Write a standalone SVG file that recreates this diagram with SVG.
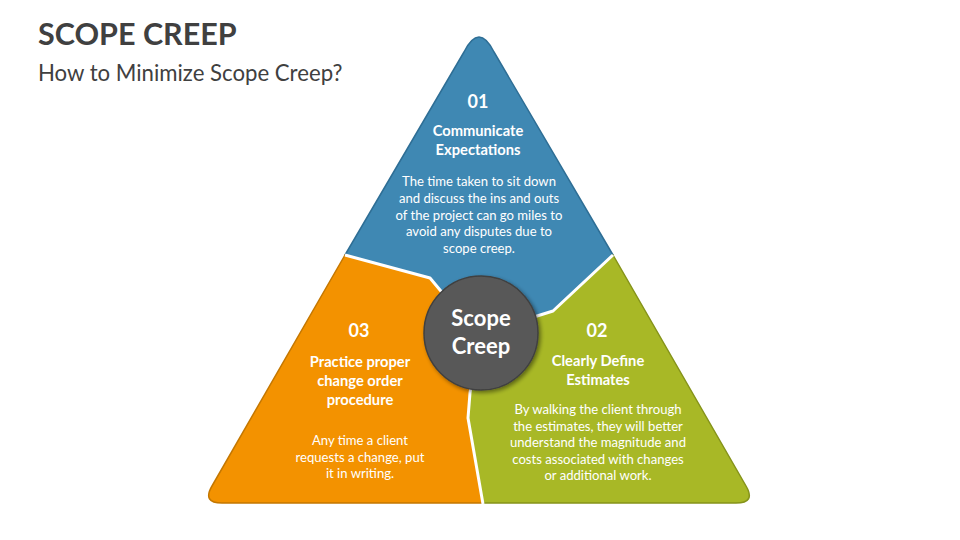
<svg xmlns="http://www.w3.org/2000/svg" width="960" height="540" viewBox="0 0 960 540">
<defs>
<filter id="sh" x="-20%" y="-20%" width="150%" height="150%">
<feGaussianBlur in="SourceAlpha" stdDeviation="2"/>
<feOffset dx="1.5" dy="2" result="b"/>
<feComponentTransfer><feFuncA type="linear" slope="0.45"/></feComponentTransfer>
<feMerge><feMergeNode/><feMergeNode in="SourceGraphic"/></feMerge>
</filter>
<style>
.title{font-family:Lato,"Open Sans",sans-serif;font-weight:700;font-size:30.5px;fill:#404040}
.sub{font-family:Lato,"Open Sans",sans-serif;font-size:22.2px;fill:#404040}
.num{font-family:Lato,"Open Sans",sans-serif;font-weight:700;font-size:18px;fill:#fff;text-anchor:middle}
.head{font-family:Lato,"Open Sans",sans-serif;font-weight:700;font-size:14.7px;fill:#fff;text-anchor:middle}
.body{font-family:Lato,"Open Sans",sans-serif;font-size:13.1px;fill:#fff;text-anchor:middle}
.ctr{font-family:Lato,"Open Sans",sans-serif;font-weight:700;font-size:22px;fill:#fff;text-anchor:middle}
.sep{fill:none;stroke:#fff;stroke-width:3;stroke-linejoin:round}
</style>
</defs>
<rect width="960" height="540" fill="#fff"/>
<text class="title" x="38" y="45">SCOPE CREEP</text>
<text class="sub" x="38" y="81">How to Minimize Scope Creep?</text>

<g id="piece1">
<path d="M345,255 L464,52 Q479,22 494,52 L613,255 L553,311 L537,316 L481,333 L445,296 L430,278 Z" fill="#3F88B3" stroke="#2E6E95" stroke-width="1.5" stroke-linejoin="round"/>
<text class="num" x="478" y="108">01</text>
<text class="head" x="478" y="136">Communicate</text>
<text class="head" x="478" y="155">Expectations</text>
<text class="body" x="479" y="186">The time taken to sit down</text>
<text class="body" x="479" y="203">and discuss the ins and outs</text>
<text class="body" x="479" y="219.5">of the project can go miles to</text>
<text class="body" x="479" y="236">avoid any disputes due to</text>
<text class="body" x="479" y="252.5">scope creep.</text>
</g>

<g id="piece3">
<path d="M345,255 L430,278 L445,296 L481,333 L470,393 L468,418 L483,503 L222,503 Q202,503 212,486 Z" fill="#F39200" stroke="#C47700" stroke-width="1.5" stroke-linejoin="round"/>
<text class="num" x="359" y="337">03</text>
<text class="head" x="360" y="367">Practice proper</text>
<text class="head" x="360" y="386">change order</text>
<text class="head" x="360" y="405">procedure</text>
<text class="body" x="360" y="445">Any time a client</text>
<text class="body" x="360" y="462">requests a change, put</text>
<text class="body" x="360" y="478">it in writing.</text>
</g>

<g id="piece2">
<path d="M613,255 L746,486 Q756,503 736,503 L483,503 L468,418 L470,393 L481,333 L537,316 L553,311 Z" fill="#A8B826" stroke="#85931A" stroke-width="1.5" stroke-linejoin="round"/>
<text class="num" x="597" y="337">02</text>
<text class="head" x="598" y="366">Clearly Define</text>
<text class="head" x="598" y="385">Estimates</text>
<text class="body" x="598" y="414">By walking the client through</text>
<text class="body" x="598" y="431">the estimates, they will better</text>
<text class="body" x="598" y="447">understand the magnitude and</text>
<text class="body" x="598" y="464">costs associated with changes</text>
<text class="body" x="598" y="480">or additional work.</text>
</g>

<g id="connectors">
<polyline class="sep" points="345,255 430,278 445,296 470,320"/>
<polyline class="sep" points="613,255 553,311 537,316 510,325"/>
<polyline class="sep" points="472,380 470,393 468,418 483,504"/>
</g>

<g id="center">
<circle cx="481" cy="333" r="57" fill="#595959" stroke="#404040" stroke-width="1.5" filter="url(#sh)"/>
<text class="ctr" x="481" y="326">Scope</text>
<text class="ctr" x="481" y="354">Creep</text>
</g>
</svg>
